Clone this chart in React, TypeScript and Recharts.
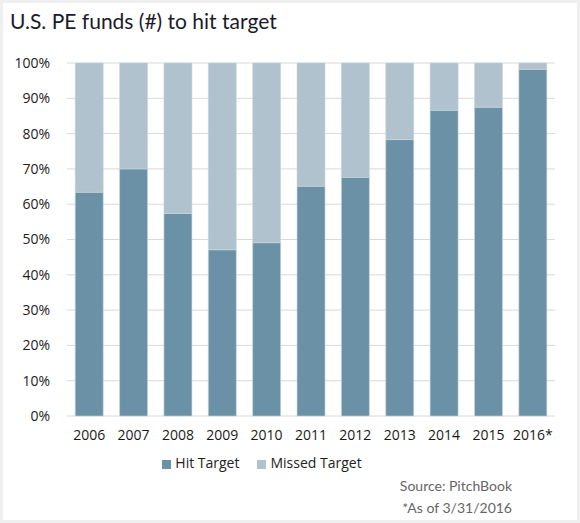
import { Bar, BarChart, CartesianGrid, Legend, XAxis, YAxis } from 'recharts';

const years = ['2006', '2007', '2008', '2009', '2010', '2011', '2012', '2013', '2014', '2015', '2016*'];
const hitTarget = [63.4, 70.0, 57.4, 47.1, 49.1, 65.1, 67.6, 78.3, 86.6, 87.5, 98.2];
const missedTarget = [36.6, 30.0, 42.6, 52.9, 50.9, 34.9, 32.4, 21.7, 13.4, 12.5, 1.8];
const yTicks = [0, 10, 20, 30, 40, 50, 60, 70, 80, 90, 100];

const HIT = '#6a91a5';
const MISSED = '#afc2cd';

const data = years.map((year, i) => ({
  year,
  hit: hitTarget[i],
  missed: missedTarget[i],
}));

const titleFont = 'Lato, "Noto Sans", sans-serif';
const tickFont = '"Open Sans", "Noto Sans", sans-serif';

export default function App() {
  return (
    <div
      style={{
        position: 'absolute',
        left: 0,
        top: 0,
        width: 580,
        height: 523,
        background: '#fff',
        boxShadow: 'inset 0 0 0 3px #efefef',
        overflow: 'hidden',
      }}
    >
      <div
        style={{
          position: 'absolute',
          left: 10,
          top: 8,
          fontFamily: titleFont,
          fontSize: 21,
          color: '#1b1b2b',
          whiteSpace: 'nowrap',
        }}
      >
        U.S. PE funds (#) to hit target
      </div>

      <div style={{ position: 'absolute', left: 0, top: 0 }}>
        <BarChart
          width={580}
          height={523}
          data={data}
          margin={{ top: 63, right: 25, left: 0, bottom: 58 }}
          barCategoryGap="18.5%"
        >
          <CartesianGrid vertical={false} stroke="#d9d9d9" strokeWidth={1} />
          <XAxis
            dataKey="year"
            axisLine={false}
            tickLine={false}
            tickMargin={8}
            height={30}
            tick={{ fill: '#1a1a1a', fontSize: 14, fontFamily: tickFont, fontWeight: 500 }}
            interval={0}
          />
          <YAxis
            width={67}
            domain={[0, 100]}
            ticks={yTicks}
            axisLine={false}
            tickLine={false}
            tickMargin={11}
            tickFormatter={(v: number) => `${v}%`}
            tick={{ fill: '#222', fontSize: 14, fontFamily: tickFont }}
          />
          <Legend
            verticalAlign="bottom"
            iconType="square"
            iconSize={9}
            wrapperStyle={{
              position: 'absolute',
              top: 453,
              left: 0,
              width: 542,
              fontFamily: tickFont,
              fontSize: 14,
              color: '#222',
            }}
            formatter={(value: string) => (
              <span style={{ color: '#222', marginRight: 8 }}>{value}</span>
            )}
          />
          <Bar
            dataKey="hit"
            name="Hit Target"
            stackId="a"
            fill={HIT}
            stroke="#c9d6dd"
            strokeWidth={0.6}
            isAnimationActive={false}
          />
          <Bar
            dataKey="missed"
            name="Missed Target"
            stackId="a"
            fill={MISSED}
            stroke="#c9d6dd"
            strokeWidth={0.6}
            isAnimationActive={false}
          />
        </BarChart>
      </div>

      <div
        style={{
          position: 'absolute',
          right: 68,
          top: 475,
          fontFamily: titleFont,
          fontSize: 14,
          color: '#666',
          textAlign: 'right',
          lineHeight: '22px',
          whiteSpace: 'nowrap',
        }}
      >
        <div>Source: PitchBook</div>
        <div>*As of 3/31/2016</div>
      </div>
    </div>
  );
}
